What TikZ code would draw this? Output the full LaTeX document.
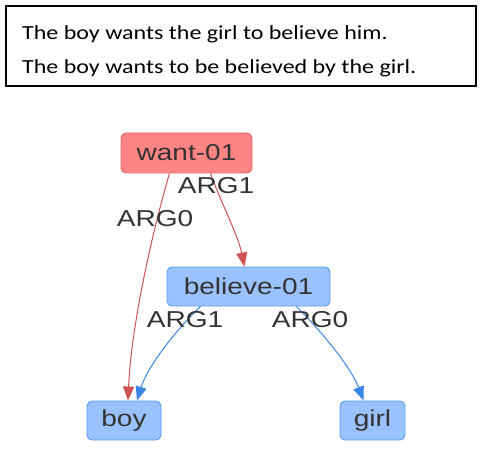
\documentclass[tikz,border=0pt]{standalone}
\usepackage{fontspec}
\setmainfont{Liberation Sans}
\newfontfamily\calib[FakeStretch=1.2]{Carlito}
\newfontfamily\arialx[FakeStretch=1.22]{Liberation Sans}
\usetikzlibrary{arrows.meta}
\definecolor{rfill}{HTML}{FF8585}
\definecolor{rdraw}{HTML}{E06666}
\definecolor{bfill}{HTML}{99C2FF}
\definecolor{bdraw}{HTML}{5B9BEF}
\definecolor{redge}{HTML}{D05252}
\definecolor{bedge}{HTML}{3A86E8}
\definecolor{txt}{HTML}{333333}
\tikzset{
  amr/.style={rounded corners=5pt, line width=0.9pt, inner sep=0pt, text=txt,
    font=\arialx\fontsize{23}{26}\selectfont},
  rnode/.style={amr, fill=rfill, draw=rdraw},
  bnode/.style={amr, fill=bfill, draw=bdraw},
  edgelbl/.style={text=txt, font=\arialx\fontsize{23}{26}\selectfont, inner sep=0pt},
  redgestyle/.style={draw=redge, line width=1pt, -{Triangle[length=14pt,width=11pt]}, color=redge},
  bedgestyle/.style={draw=bedge, line width=1pt, -{Triangle[length=14pt,width=11pt]}, color=bedge},
  sent/.style={anchor=base west, inner sep=0pt, font=\calib\fontsize{20}{22}\selectfont}
}
\begin{document}
\begin{tikzpicture}[x=1pt,y=-1pt]
\useasboundingbox (0,0) rectangle (484,457);
\node[draw, line width=2pt, minimum width=470pt, minimum height=80pt, inner sep=0pt] (box) at (240.5,46.5) {};
\node[sent] (s1) at (22,39.5) {The boy wants the girl to believe him.};
\node[sent] (s2) at (22,74) {The boy wants to be believed by the girl.};

\node[rnode, minimum width=131pt, minimum height=40pt] (want) at (186.5,153) {want-01};
\node[bnode, minimum width=163pt, minimum height=39pt] (believe) at (248.5,286.5) {believe-01};
\node[bnode, minimum width=74pt, minimum height=39pt] (boy) at (124,420.5) {boy};
\node[bnode, minimum width=65pt, minimum height=39pt] (girl) at (372.5,420.5) {girl};

\coordinate (w0) at ([xshift=-17pt]want.south);
\coordinate (w1) at ([xshift=24pt]want.south);
\coordinate (b1) at ([xshift=-48pt]believe.south);
\coordinate (b0) at ([xshift=48pt]believe.south);
\coordinate (boyA) at ([xshift=4pt]boy.north);
\coordinate (boyB) at ([xshift=13pt]boy.north);
\coordinate (girlA) at ([xshift=-9pt]girl.north);
\coordinate (belA) at ([xshift=-4pt]believe.north);

\draw[redgestyle] (w0) .. controls (150,240) and (131,330) .. (boyA);
\draw[redgestyle] (w1) .. controls (222,205) and (238,235) .. (belA);
\draw[bedgestyle] (b1) .. controls (178,328) and (148,365) .. (boyB);
\draw[bedgestyle] (b0) .. controls (318,328) and (350,365) .. (girlA);

\node[edgelbl] (l1) at (216,186) {ARG1};
\node[edgelbl] (l0) at (155,219) {ARG0};
\node[edgelbl] (l2) at (185,320) {ARG1};
\node[edgelbl] (l3) at (310,320) {ARG0};
\end{tikzpicture}
\end{document}
